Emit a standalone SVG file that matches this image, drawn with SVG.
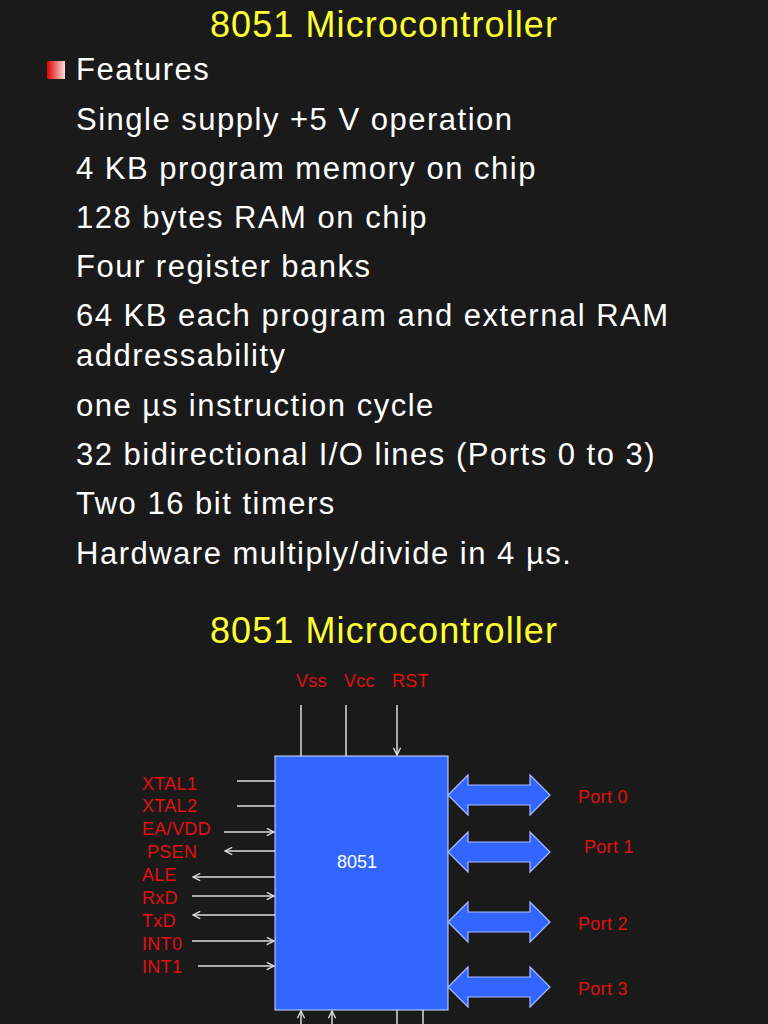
<svg xmlns="http://www.w3.org/2000/svg" width="768" height="1024" viewBox="0 0 768 1024">
<defs>
<style>
.t{font-family:"Liberation Sans",Arial,sans-serif;fill:#ffffff;font-size:31px;letter-spacing:1.5px}
.h{font-family:"Liberation Sans",Arial,sans-serif;fill:#ffff33;font-size:36px;text-anchor:middle;letter-spacing:1.1px}
.r{font-family:"Liberation Sans",Arial,sans-serif;fill:#e01010;font-size:18px;letter-spacing:0.3px}
.ln{stroke:#dddddd;stroke-width:1.5;fill:none}
.pa{fill:#3366ff;stroke:#aabbff;stroke-width:1.2}
</style>
<linearGradient id="bg" x1="0" x2="1"><stop offset="0" stop-color="#dd0000"/><stop offset="1" stop-color="#ffdddd"/></linearGradient>
<marker id="a" viewBox="0 0 10 10" refX="9" refY="5" markerWidth="9" markerHeight="9" orient="auto-start-reverse" markerUnits="userSpaceOnUse"><path d="M1,1 L9,5 L1,9" fill="none" stroke="#dddddd" stroke-width="1.5"/></marker>
</defs>
<rect width="768" height="1024" fill="#1a1a1a"/>
<text class="h" x="384" y="37">8051 Microcontroller</text>
<rect x="47" y="61" width="18" height="18" fill="url(#bg)"/>
<g class="t">
<text x="76" y="80">Features</text>
<text x="76" y="130">Single supply +5 V operation</text>
<text x="76" y="179">4 KB program memory on chip</text>
<text x="76" y="228">128 bytes RAM on chip</text>
<text x="76" y="277">Four register banks</text>
<text x="76" y="326">64 KB each program and external RAM</text>
<text x="76" y="366">addressability</text>
<text x="76" y="416">one µs instruction cycle</text>
<text x="76" y="465">32 bidirectional I/O lines (Ports 0 to 3)</text>
<text x="76" y="514">Two 16 bit timers</text>
<text x="76" y="564">Hardware multiply/divide in 4 µs.</text>
</g>
<text class="h" x="384" y="643">8051 Microcontroller</text>
<g id="chip"><rect x="275" y="756" width="173" height="254" fill="#3366ff" stroke="#ccddff" stroke-width="1"/>
<text x="357" y="868" font-family="Liberation Sans,Arial,sans-serif" font-size="18" fill="#ffffff" text-anchor="middle">8051</text></g>
<g id="labels" class="r">
<text x="296" y="687">Vss</text><text x="344" y="687">Vcc</text><text x="392" y="687">RST</text>
<text x="142" y="790">XTAL1</text><text x="142" y="812">XTAL2</text><text x="142" y="835">EA/VDD</text>
<text x="147" y="858">PSEN</text><text x="142" y="881">ALE</text><text x="142" y="904">RxD</text>
<text x="142" y="927">TxD</text><text x="142" y="950">INT0</text><text x="142" y="973">INT1</text>
<text x="578" y="803">Port 0</text><text x="584" y="853">Port 1</text><text x="578" y="930">Port 2</text><text x="578" y="995">Port 3</text>
</g>
<g id="connectors" class="ln">
<line x1="301" y1="705" x2="301" y2="756"/>
<line x1="346" y1="705" x2="346" y2="756"/>
<line x1="397" y1="705" x2="397" y2="755" marker-end="url(#a)"/>
<line x1="237" y1="781" x2="275" y2="781"/>
<line x1="237" y1="806" x2="275" y2="806"/>
<line x1="224" y1="832" x2="274" y2="832" marker-end="url(#a)"/>
<line x1="275" y1="851" x2="225" y2="851" marker-end="url(#a)"/>
<line x1="275" y1="877" x2="193" y2="877" marker-end="url(#a)"/>
<line x1="192" y1="896" x2="274" y2="896" marker-end="url(#a)"/>
<line x1="275" y1="915" x2="193" y2="915" marker-end="url(#a)"/>
<line x1="192" y1="941" x2="274" y2="941" marker-end="url(#a)"/>
<line x1="198" y1="966" x2="274" y2="966" marker-end="url(#a)"/>
<line x1="301" y1="1024" x2="301" y2="1011" marker-end="url(#a)"/>
<line x1="332" y1="1024" x2="332" y2="1011" marker-end="url(#a)"/>
<line x1="397" y1="1010" x2="397" y2="1024"/>
<line x1="423" y1="1010" x2="423" y2="1024"/>
</g>
<g id="ports">
<path class="pa" d="M448,795 l20,-20 v10 h62 v-10 l20,20 l-20,20 v-10 h-62 v10 z"/>
<path class="pa" d="M448,852 l20,-20 v10 h62 v-10 l20,20 l-20,20 v-10 h-62 v10 z"/>
<path class="pa" d="M448,922 l20,-20 v10 h62 v-10 l20,20 l-20,20 v-10 h-62 v10 z"/>
<path class="pa" d="M448,987 l20,-20 v10 h62 v-10 l20,20 l-20,20 v-10 h-62 v10 z"/>
</g>
</svg>
